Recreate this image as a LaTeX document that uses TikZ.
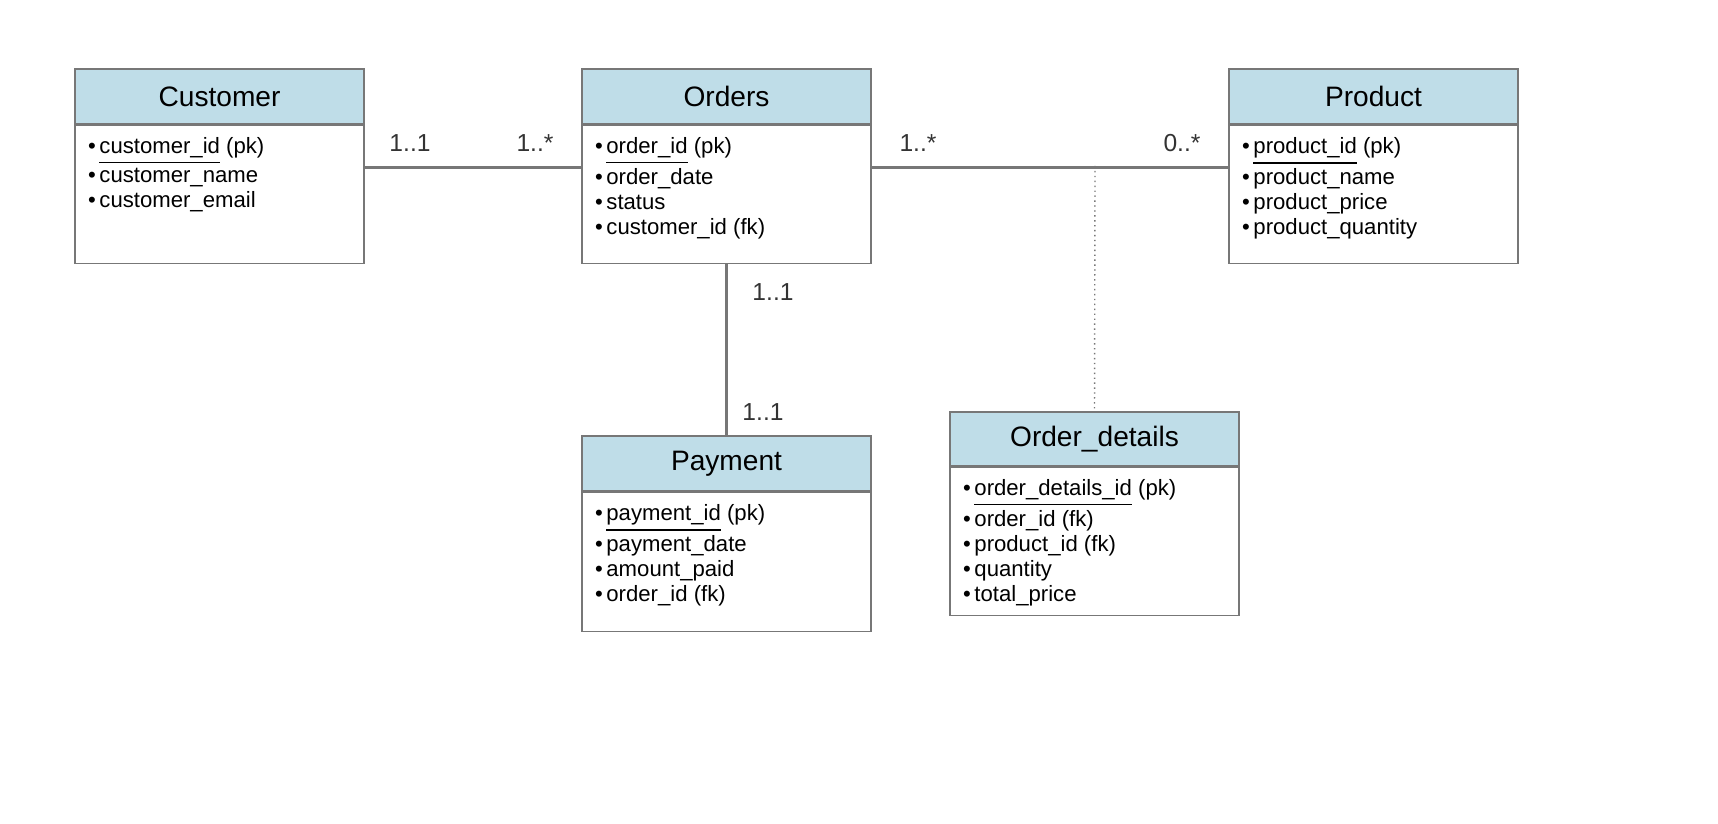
\documentclass[tikz,border=0pt]{standalone}
\usepackage{fontspec}
\setmainfont{Liberation Sans}
\usetikzlibrary{positioning}

\definecolor{headblue}{HTML}{BFDDE8}
\definecolor{boxgray}{HTML}{777777}
\definecolor{labgray}{HTML}{333333}

\tikzset{
    head/.style={draw=boxgray,fill=headblue,minimum width=2.89cm,minimum height=0.55cm,
                 inner sep=0pt,font=\fontsize{8}{9}\selectfont},
    body/.style={draw=boxgray,fill=white,minimum width=2.89cm,inner sep=0pt},
    list/.style={anchor=north west,inner sep=0pt,align=left,
                 font=\fontsize{6.3}{7.1}\selectfont},
    card/.style={text=labgray,inner sep=0pt,font=\fontsize{7}{8}\selectfont},
    link/.style={draw=boxgray,thick}
}
\newcommand{\attr}{\textbullet\,}

\begin{document}
\begin{tikzpicture}
    \useasboundingbox (0,0) rectangle (17.18,8.24);

    % entities
    \node[head] (customer) at (2.195,7.275) {Customer};
    \node[body,minimum height=1.38cm,below=0pt of customer] (customerb) {};
    \node[list] at ([xshift=0.13cm,yshift=-0.12cm]customerb.north west)
        {\attr\underline{customer\_id} (pk)\\\attr customer\_name\\\attr customer\_email};

    \node[head] (orders) at (7.265,7.275) {Orders};
    \node[body,minimum height=1.38cm,below=0pt of orders] (ordersb) {};
    \node[list] at ([xshift=0.13cm,yshift=-0.12cm]ordersb.north west)
        {\attr\underline{order\_id} (pk)\\\attr order\_date\\\attr status\\\attr customer\_id (fk)};

    \node[head] (product) at (13.735,7.275) {Product};
    \node[body,minimum height=1.38cm,below=0pt of product] (productb) {};
    \node[list] at ([xshift=0.13cm,yshift=-0.12cm]productb.north west)
        {\attr\underline{product\_id} (pk)\\\attr product\_name\\\attr product\_price\\\attr product\_quantity};

    \node[head] (payment) at (7.265,3.605) {Payment};
    \node[body,minimum height=1.39cm,below=0pt of payment] (paymentb) {};
    \node[list] at ([xshift=0.13cm,yshift=-0.12cm]paymentb.north west)
        {\attr\underline{payment\_id} (pk)\\\attr payment\_date\\\attr amount\_paid\\\attr order\_id (fk)};

    \node[head,minimum height=0.54cm] (details) at (10.945,3.85) {Order\_details};
    \node[body,minimum height=1.48cm,below=0pt of details] (detailsb) {};
    \node[list] at ([xshift=0.13cm,yshift=-0.12cm]detailsb.north west)
        {\attr\underline{order\_details\_id} (pk)\\\attr order\_id (fk)\\\attr product\_id (fk)\\\attr quantity\\\attr total\_price};

    % relations
    \draw[link] ([yshift=0.27cm]customerb.east) -- ([yshift=0.27cm]ordersb.west);
    \draw[link] ([yshift=0.27cm]ordersb.east) -- ([yshift=0.27cm]productb.west);
    \draw[link] (ordersb.south) -- (payment.north);
    \coordinate (assoc) at (10.95,6.58);
    \draw[boxgray,densely dotted] (assoc) -- (details.north);

    % cardinalities
    \node[card] (c1) at (4.10,6.81) {1..1};
    \node[card] (c2) at (5.35,6.81) {1..*};
    \node[card] (c3) at (9.18,6.81) {1..*};
    \node[card] (c4) at (11.82,6.81) {0..*};
    \node[card] (c5) at (7.73,5.32) {1..1};
    \node[card] (c6) at (7.63,4.12) {1..1};
\end{tikzpicture}
\end{document}
